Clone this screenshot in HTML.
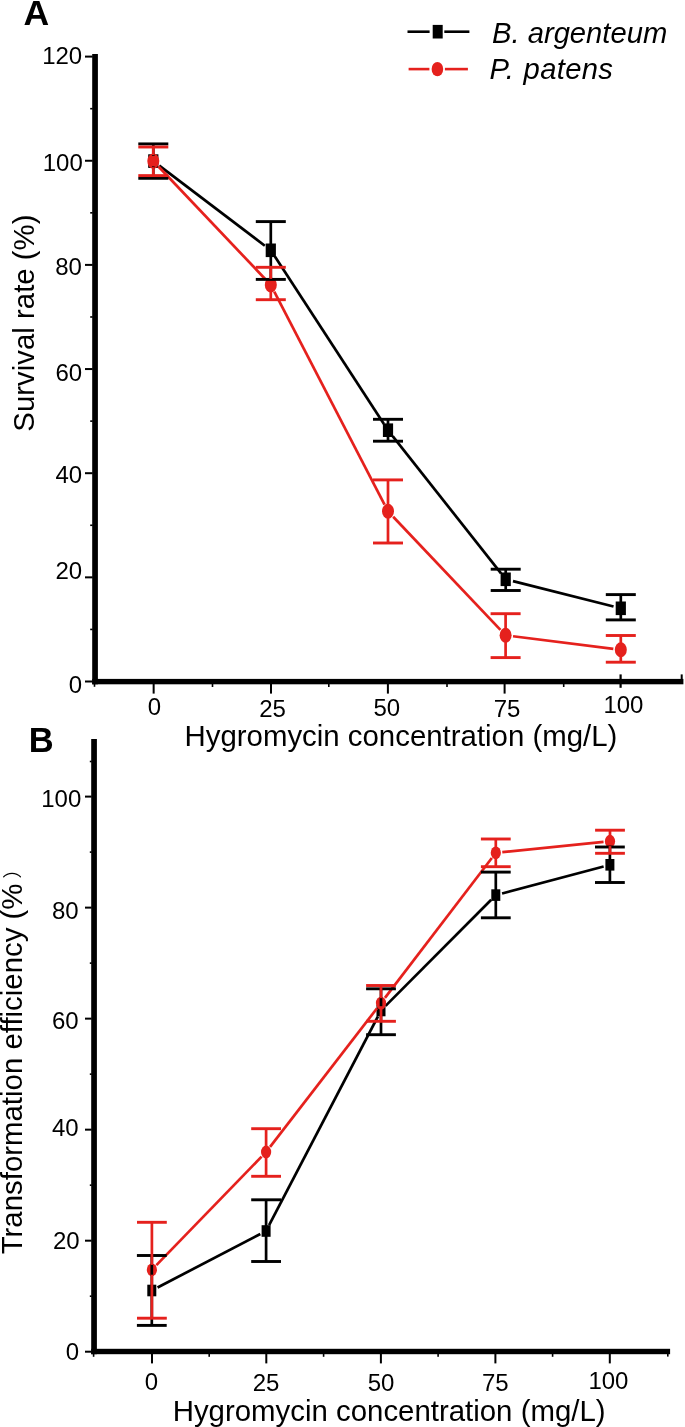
<!DOCTYPE html>
<html lang="en"><head><meta charset="utf-8"><title>Hygromycin sensitivity and transformation efficiency</title>
<style>html,body{margin:0;padding:0;background:#fff;}svg{display:block;}text{font-family:"Liberation Sans","Noto Sans CJK SC",sans-serif;fill:#000;}.tk{font-size:24px;}.ti{font-size:29.4px;}.lg{font-size:29.2px;font-style:italic;}.pl{font-size:34.5px;font-weight:bold;}</style></head><body>
<svg width="685" height="1427" viewBox="0 0 685 1427">
<rect x="0" y="0" width="685" height="1427" fill="#fff"/>
<rect x="92.2" y="54" width="5.7" height="630.3" fill="#000000"/>
<rect x="92.2" y="678.9" width="591.2" height="5.4" fill="#000000"/>
<rect x="85" y="55.6" width="7.7" height="2" fill="#000000"/>
<rect x="85" y="159.75" width="7.7" height="2" fill="#000000"/>
<rect x="85" y="263.9" width="7.7" height="2" fill="#000000"/>
<rect x="85" y="368.05" width="7.7" height="2" fill="#000000"/>
<rect x="85" y="472.2" width="7.7" height="2" fill="#000000"/>
<rect x="85" y="576.35" width="7.7" height="2" fill="#000000"/>
<rect x="85" y="680.5" width="7.7" height="2" fill="#000000"/>
<rect x="90.2" y="107.88" width="2.5" height="1.6" fill="#000000"/>
<rect x="90.2" y="212.03" width="2.5" height="1.6" fill="#000000"/>
<rect x="90.2" y="316.18" width="2.5" height="1.6" fill="#000000"/>
<rect x="90.2" y="420.33" width="2.5" height="1.6" fill="#000000"/>
<rect x="90.2" y="524.48" width="2.5" height="1.6" fill="#000000"/>
<rect x="90.2" y="628.63" width="2.5" height="1.6" fill="#000000"/>
<rect x="152.65" y="684" width="2" height="9.6" fill="#000000"/>
<rect x="270" y="684" width="2" height="9.6" fill="#000000"/>
<rect x="386.9" y="684" width="2" height="9.6" fill="#000000"/>
<rect x="503.6" y="684" width="2" height="9.6" fill="#000000"/>
<rect x="619.5" y="674.4" width="2.2" height="13.4" fill="#000000"/>
<rect x="680.7" y="674.4" width="2" height="9.6" fill="#000000"/>
<rect x="93.7" y="684" width="1.6" height="2.8" fill="#000000"/>
<rect x="211.7" y="684" width="1.6" height="3" fill="#000000"/>
<rect x="328" y="684" width="1.6" height="3" fill="#000000"/>
<rect x="446.2" y="684" width="1.6" height="3" fill="#000000"/>
<rect x="562.9" y="684" width="1.6" height="3" fill="#000000"/>
<line x1="159.27" y1="165.63" x2="264.83" y2="245.77" stroke="#000000" stroke-width="2.7"/>
<line x1="274.89" y1="256.58" x2="383.91" y2="423.92" stroke="#000000" stroke-width="2.7"/>
<line x1="392.65" y1="436.09" x2="501.05" y2="573.41" stroke="#000000" stroke-width="2.7"/>
<line x1="512.97" y1="581.13" x2="613.53" y2="606.47" stroke="#000000" stroke-width="2.7"/>
<rect x="148.2" y="154.3" width="10.2" height="13.6" fill="#000000"/>
<rect x="265.7" y="243.5" width="10.2" height="13.6" fill="#000000"/>
<rect x="382.9" y="423.4" width="10.2" height="13.6" fill="#000000"/>
<rect x="500.6" y="572.5" width="10.2" height="13.6" fill="#000000"/>
<rect x="615.7" y="601.5" width="10.2" height="13.6" fill="#000000"/>
<line x1="158.46" y1="166.54" x2="265.64" y2="279.46" stroke="#E5211D" stroke-width="2.7"/>
<line x1="274.25" y1="291.56" x2="384.55" y2="504.64" stroke="#E5211D" stroke-width="2.7"/>
<line x1="393.16" y1="516.74" x2="500.44" y2="629.86" stroke="#E5211D" stroke-width="2.7"/>
<line x1="513.04" y1="636.24" x2="613.36" y2="648.86" stroke="#E5211D" stroke-width="2.7"/>
<ellipse cx="153.3" cy="161.1" rx="6" ry="7.5" fill="#E5211D"/>
<ellipse cx="270.8" cy="284.9" rx="6" ry="7.5" fill="#E5211D"/>
<ellipse cx="388" cy="511.3" rx="6" ry="7.5" fill="#E5211D"/>
<ellipse cx="505.6" cy="635.3" rx="6" ry="7.5" fill="#E5211D"/>
<ellipse cx="620.8" cy="649.8" rx="6" ry="7.5" fill="#E5211D"/>
<rect x="151.95" y="143.9" width="2.7" height="11.9" fill="#000000"/>
<rect x="151.95" y="166.4" width="2.7" height="11.9" fill="#000000"/>
<rect x="138.3" y="142.45" width="30" height="2.9" fill="#000000"/>
<rect x="138.3" y="176.85" width="30" height="2.9" fill="#000000"/>
<rect x="269.45" y="221.6" width="2.7" height="23.4" fill="#000000"/>
<rect x="269.45" y="255.6" width="2.7" height="23.8" fill="#000000"/>
<rect x="255.8" y="220.15" width="30" height="2.9" fill="#000000"/>
<rect x="255.8" y="277.95" width="30" height="2.9" fill="#000000"/>
<rect x="386.65" y="419.3" width="2.7" height="5.6" fill="#000000"/>
<rect x="386.65" y="435.5" width="2.7" height="5.7" fill="#000000"/>
<rect x="373" y="417.85" width="30" height="2.9" fill="#000000"/>
<rect x="373" y="439.75" width="30" height="2.9" fill="#000000"/>
<rect x="504.35" y="569.2" width="2.7" height="4.8" fill="#000000"/>
<rect x="504.35" y="584.6" width="2.7" height="5.9" fill="#000000"/>
<rect x="490.7" y="567.75" width="30" height="2.9" fill="#000000"/>
<rect x="490.7" y="589.05" width="30" height="2.9" fill="#000000"/>
<rect x="619.45" y="594.6" width="2.7" height="8.4" fill="#000000"/>
<rect x="619.45" y="613.6" width="2.7" height="6.3" fill="#000000"/>
<rect x="605.8" y="593.15" width="30" height="2.9" fill="#000000"/>
<rect x="605.8" y="618.45" width="30" height="2.9" fill="#000000"/>
<rect x="151.95" y="147" width="2.7" height="8.1" fill="#E5211D"/>
<rect x="151.95" y="167.1" width="2.7" height="8.5" fill="#E5211D"/>
<rect x="138.3" y="145.55" width="30" height="2.9" fill="#E5211D"/>
<rect x="138.3" y="174.15" width="30" height="2.9" fill="#E5211D"/>
<rect x="269.45" y="267.3" width="2.7" height="11.6" fill="#E5211D"/>
<rect x="269.45" y="290.9" width="2.7" height="8.8" fill="#E5211D"/>
<rect x="255.8" y="265.85" width="30" height="2.9" fill="#E5211D"/>
<rect x="255.8" y="298.25" width="30" height="2.9" fill="#E5211D"/>
<rect x="386.65" y="479.9" width="2.7" height="25.4" fill="#E5211D"/>
<rect x="386.65" y="517.3" width="2.7" height="25.7" fill="#E5211D"/>
<rect x="373" y="478.45" width="30" height="2.9" fill="#E5211D"/>
<rect x="373" y="541.55" width="30" height="2.9" fill="#E5211D"/>
<rect x="504.25" y="613.7" width="2.7" height="15.6" fill="#E5211D"/>
<rect x="504.25" y="641.3" width="2.7" height="16.3" fill="#E5211D"/>
<rect x="490.6" y="612.25" width="30" height="2.9" fill="#E5211D"/>
<rect x="490.6" y="656.15" width="30" height="2.9" fill="#E5211D"/>
<rect x="619.45" y="635.5" width="2.7" height="8.3" fill="#E5211D"/>
<rect x="619.45" y="655.8" width="2.7" height="6.4" fill="#E5211D"/>
<rect x="605.8" y="634.05" width="30" height="2.9" fill="#E5211D"/>
<rect x="605.8" y="660.75" width="30" height="2.9" fill="#E5211D"/>
<rect x="91.2" y="739" width="5.7" height="615.2" fill="#000000"/>
<rect x="91.2" y="1348.8" width="578.9" height="5.4" fill="#000000"/>
<rect x="85" y="795.6" width="6.7" height="2" fill="#000000"/>
<rect x="85" y="906.62" width="6.7" height="2" fill="#000000"/>
<rect x="85" y="1017.64" width="6.7" height="2" fill="#000000"/>
<rect x="85" y="1128.66" width="6.7" height="2" fill="#000000"/>
<rect x="85" y="1239.68" width="6.7" height="2" fill="#000000"/>
<rect x="85" y="1350.7" width="6.7" height="2" fill="#000000"/>
<rect x="89.8" y="760.7" width="1.9" height="1.6" fill="#000000"/>
<rect x="89.8" y="851.31" width="1.9" height="1.6" fill="#000000"/>
<rect x="89.8" y="962.33" width="1.9" height="1.6" fill="#000000"/>
<rect x="89.8" y="1073.35" width="1.9" height="1.6" fill="#000000"/>
<rect x="89.8" y="1184.37" width="1.9" height="1.6" fill="#000000"/>
<rect x="89.8" y="1295.39" width="1.9" height="1.6" fill="#000000"/>
<rect x="151" y="1354" width="2" height="9.4" fill="#000000"/>
<rect x="265.3" y="1354" width="2" height="9.4" fill="#000000"/>
<rect x="379.9" y="1354" width="2" height="9.4" fill="#000000"/>
<rect x="494.4" y="1354" width="2" height="9.4" fill="#000000"/>
<rect x="608.8" y="1354" width="2" height="9.4" fill="#000000"/>
<rect x="92.8" y="1354" width="1.6" height="2.8" fill="#000000"/>
<rect x="208.4" y="1354" width="1.6" height="2.8" fill="#000000"/>
<rect x="322.8" y="1354" width="1.6" height="2.8" fill="#000000"/>
<rect x="437.3" y="1354" width="1.6" height="2.8" fill="#000000"/>
<rect x="551.8" y="1354" width="1.6" height="2.8" fill="#000000"/>
<rect x="667" y="1354" width="1.6" height="2.6" fill="#000000"/>
<line x1="157.57" y1="1287.5" x2="260.33" y2="1234" stroke="#000000" stroke-width="2.7"/>
<line x1="269.1" y1="1225.24" x2="378" y2="1016.26" stroke="#000000" stroke-width="2.7"/>
<line x1="385.58" y1="1005.89" x2="491.22" y2="899.71" stroke="#000000" stroke-width="2.7"/>
<line x1="502.08" y1="893.43" x2="603.62" y2="866.47" stroke="#000000" stroke-width="2.7"/>
<rect x="147.3" y="1284.7" width="9" height="11.6" fill="#000000"/>
<rect x="261.6" y="1225.2" width="9" height="11.6" fill="#000000"/>
<rect x="376.5" y="1004.7" width="9" height="11.6" fill="#000000"/>
<rect x="491.3" y="889.3" width="9" height="11.6" fill="#000000"/>
<rect x="605.4" y="859" width="9" height="11.6" fill="#000000"/>
<line x1="156.42" y1="1265.13" x2="261.58" y2="1156.67" stroke="#E5211D" stroke-width="2.7"/>
<line x1="270.07" y1="1146.85" x2="377.03" y2="1008.25" stroke="#E5211D" stroke-width="2.7"/>
<line x1="384.95" y1="997.93" x2="491.85" y2="857.97" stroke="#E5211D" stroke-width="2.7"/>
<line x1="502.27" y1="852.14" x2="603.53" y2="841.86" stroke="#E5211D" stroke-width="2.7"/>
<ellipse cx="151.9" cy="1269.8" rx="5.1" ry="6.4" fill="#E5211D"/>
<ellipse cx="266.1" cy="1152" rx="5.1" ry="6.4" fill="#E5211D"/>
<ellipse cx="381" cy="1003.1" rx="5.1" ry="6.4" fill="#E5211D"/>
<ellipse cx="495.8" cy="852.8" rx="5.1" ry="6.4" fill="#E5211D"/>
<ellipse cx="610" cy="841.2" rx="5.1" ry="6.4" fill="#E5211D"/>
<rect x="150.45" y="1255.5" width="2.7" height="30.7" fill="#000000"/>
<rect x="150.45" y="1294.8" width="2.7" height="30.6" fill="#000000"/>
<rect x="136.9" y="1254.05" width="29.8" height="2.9" fill="#000000"/>
<rect x="136.9" y="1323.95" width="29.8" height="2.9" fill="#000000"/>
<rect x="264.75" y="1199.8" width="2.7" height="26.9" fill="#000000"/>
<rect x="264.75" y="1235.3" width="2.7" height="26.2" fill="#000000"/>
<rect x="251.2" y="1198.35" width="29.8" height="2.9" fill="#000000"/>
<rect x="251.2" y="1260.05" width="29.8" height="2.9" fill="#000000"/>
<rect x="379.65" y="988.8" width="2.7" height="17.4" fill="#000000"/>
<rect x="379.65" y="1014.8" width="2.7" height="19.9" fill="#000000"/>
<rect x="366.1" y="987.35" width="29.8" height="2.9" fill="#000000"/>
<rect x="366.1" y="1033.25" width="29.8" height="2.9" fill="#000000"/>
<rect x="494.45" y="872.1" width="2.7" height="18.7" fill="#000000"/>
<rect x="494.45" y="899.4" width="2.7" height="18.4" fill="#000000"/>
<rect x="480.9" y="870.65" width="29.8" height="2.9" fill="#000000"/>
<rect x="480.9" y="916.35" width="29.8" height="2.9" fill="#000000"/>
<rect x="608.55" y="847" width="2.7" height="13.5" fill="#000000"/>
<rect x="608.55" y="869.1" width="2.7" height="13.4" fill="#000000"/>
<rect x="595" y="845.55" width="29.8" height="2.9" fill="#000000"/>
<rect x="595" y="881.05" width="29.8" height="2.9" fill="#000000"/>
<rect x="150.55" y="1222.3" width="2.7" height="42.6" fill="#E5211D"/>
<rect x="150.55" y="1274.7" width="2.7" height="43.5" fill="#E5211D"/>
<rect x="137" y="1220.85" width="29.8" height="2.9" fill="#E5211D"/>
<rect x="137" y="1316.75" width="29.8" height="2.9" fill="#E5211D"/>
<rect x="264.75" y="1128.7" width="2.7" height="18.4" fill="#E5211D"/>
<rect x="264.75" y="1156.9" width="2.7" height="19.4" fill="#E5211D"/>
<rect x="251.2" y="1127.25" width="29.8" height="2.9" fill="#E5211D"/>
<rect x="251.2" y="1174.85" width="29.8" height="2.9" fill="#E5211D"/>
<rect x="379.65" y="985.5" width="2.7" height="12.7" fill="#E5211D"/>
<rect x="379.65" y="1008" width="2.7" height="13.3" fill="#E5211D"/>
<rect x="366.1" y="984.05" width="29.8" height="2.9" fill="#E5211D"/>
<rect x="366.1" y="1019.85" width="29.8" height="2.9" fill="#E5211D"/>
<rect x="494.45" y="839" width="2.7" height="8.9" fill="#E5211D"/>
<rect x="494.45" y="857.7" width="2.7" height="9" fill="#E5211D"/>
<rect x="480.9" y="837.55" width="29.8" height="2.9" fill="#E5211D"/>
<rect x="480.9" y="865.25" width="29.8" height="2.9" fill="#E5211D"/>
<rect x="608.65" y="830.2" width="2.7" height="6.1" fill="#E5211D"/>
<rect x="608.65" y="846.1" width="2.7" height="7.2" fill="#E5211D"/>
<rect x="595.1" y="828.75" width="29.8" height="2.9" fill="#E5211D"/>
<rect x="595.1" y="851.85" width="29.8" height="2.9" fill="#E5211D"/>
<rect x="407.5" y="30.4" width="22.1" height="2.6" fill="#000000"/>
<rect x="444.3" y="30.4" width="25.1" height="2.6" fill="#000000"/>
<rect x="432.7" y="24.9" width="10" height="13.6" fill="#000000"/>
<rect x="408.6" y="67.8" width="20.8" height="2.6" fill="#E5211D"/>
<rect x="444.9" y="67.8" width="23" height="2.6" fill="#E5211D"/>
<ellipse cx="437.4" cy="69.1" rx="5.8" ry="7.2" fill="#E5211D"/>
<text class="lg" x="492" y="42.8">B. argenteum</text>
<text class="lg" x="489.6" y="79" letter-spacing="0.35" word-spacing="1">P. patens</text>
<text class="pl" x="23.6" y="25" style="font-size:35.6px">A</text>
<text class="pl" x="28.7" y="752.1">B</text>
<text class="tk" text-anchor="end" x="82.2" y="64.4">120</text>
<text class="tk" text-anchor="end" x="82.8" y="170.9">100</text>
<text class="tk" text-anchor="end" x="81.9" y="274.9">80</text>
<text class="tk" text-anchor="end" x="82.1" y="380.6">60</text>
<text class="tk" text-anchor="end" x="82.2" y="483.2">40</text>
<text class="tk" text-anchor="end" x="82.2" y="579.2">20</text>
<text class="tk" text-anchor="end" x="82.2" y="693.3">0</text>
<text class="tk" text-anchor="middle" x="154.4" y="715.1">0</text>
<text class="tk" text-anchor="middle" x="272.5" y="716.6">25</text>
<text class="tk" text-anchor="middle" x="386.8" y="715.7">50</text>
<text class="tk" text-anchor="middle" x="507.1" y="717.2">75</text>
<text class="tk" text-anchor="middle" x="623.4" y="712.7">100</text>
<text class="tk" text-anchor="end" x="81.3" y="807.2">100</text>
<text class="tk" text-anchor="end" x="78.7" y="919.1">80</text>
<text class="tk" text-anchor="end" x="78.7" y="1029">60</text>
<text class="tk" text-anchor="end" x="78.7" y="1136.2">40</text>
<text class="tk" text-anchor="end" x="79.7" y="1249.2">20</text>
<text class="tk" text-anchor="end" x="79.2" y="1359.9">0</text>
<text class="tk" text-anchor="middle" x="151.4" y="1390.2">0</text>
<text class="tk" text-anchor="middle" x="266" y="1391">25</text>
<text class="tk" text-anchor="middle" x="381" y="1390.5">50</text>
<text class="tk" text-anchor="middle" x="495.3" y="1390.5">75</text>
<text class="tk" text-anchor="middle" x="608.4" y="1389">100</text>
<text class="ti" x="184.5" y="745.9">Hygromycin concentration (mg/L)</text>
<text class="ti" x="172.7" y="1421.3">Hygromycin concentration (mg/L)</text>
<text class="ti" transform="translate(33.7 431.7) rotate(-90)">Survival rate (%)</text>
<text class="ti" transform="translate(21.7 1254.3) rotate(-90)">Transformation efficiency (%<tspan font-size="19px" dx="5" dy="-2">）</tspan></text>
</svg></body></html>
